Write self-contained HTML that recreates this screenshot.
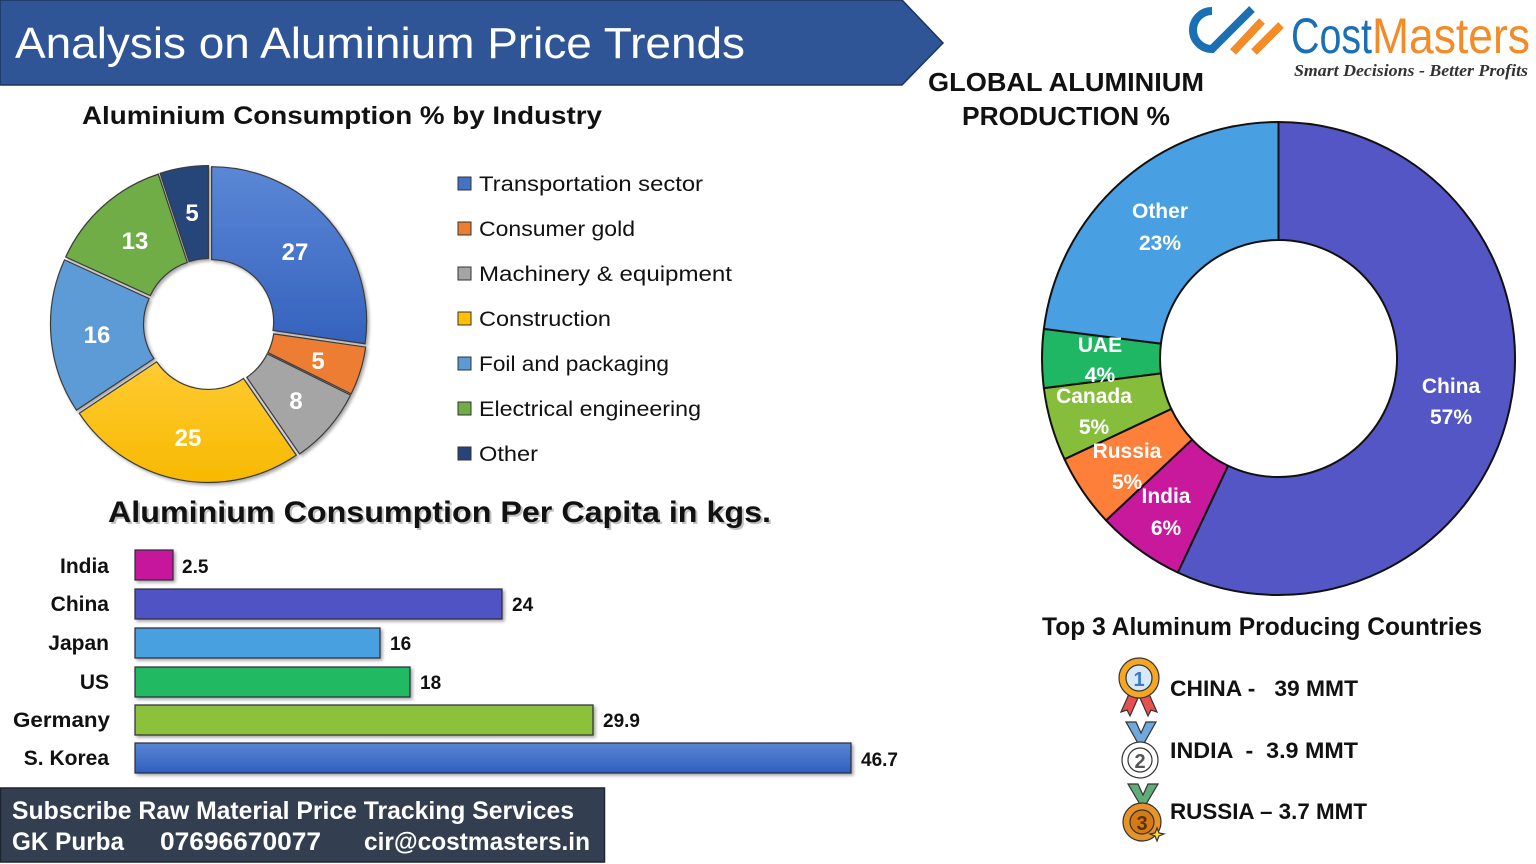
<!DOCTYPE html>
<html><head><meta charset="utf-8"><style>
html,body{margin:0;padding:0;background:#fff;}
body{width:1536px;height:864px;overflow:hidden;}
svg{display:block;}
text{font-family:"Liberation Sans",sans-serif;}
</style></head><body>
<svg width="1536" height="864" viewBox="0 0 1536 864" xmlns="http://www.w3.org/2000/svg">
<defs>
<linearGradient id="gBlue" x1="0" y1="0" x2="0" y2="1"><stop offset="0" stop-color="#5b87d6"/><stop offset="1" stop-color="#3562bd"/></linearGradient>
<linearGradient id="gKorea" x1="0" y1="0" x2="0" y2="1"><stop offset="0" stop-color="#5a85d4"/><stop offset="1" stop-color="#2f5fbf"/></linearGradient>
<linearGradient id="gYel" x1="0" y1="0" x2="0" y2="1"><stop offset="0" stop-color="#ffcb33"/><stop offset="1" stop-color="#f7b900"/></linearGradient>
<filter id="sh" x="-10%" y="-10%" width="130%" height="130%"><feDropShadow dx="2" dy="2" stdDeviation="1.5" flood-color="#000" flood-opacity="0.35"/></filter>
</defs>

<!-- Header banner -->
<polygon points="0,0 902,0 943,43 902,85 0,85" fill="#2f5597" stroke="#1f3460" stroke-width="1.5"/>
<text x="15" y="58" font-size="44" fill="#fff" textLength="730" lengthAdjust="spacingAndGlyphs">Analysis on Aluminium Price Trends</text>

<!-- Logo -->
<path d="M1212,11 A19,19 0 0 0 1212,49 L1252,9" fill="none" stroke="#1b6fb4" stroke-width="8" stroke-linecap="butt"/>
<line x1="1233" y1="52" x2="1262" y2="21" stroke="#f28c28" stroke-width="8"/>
<line x1="1254" y1="52" x2="1281" y2="25" stroke="#f28c28" stroke-width="8"/>
<text x="1291" y="53" font-size="50" fill="#1b6fb4" textLength="81" lengthAdjust="spacingAndGlyphs">Cost</text>
<text x="1372" y="53" font-size="50" fill="#f28c28" textLength="158" lengthAdjust="spacingAndGlyphs">Masters</text>
<text x="1294" y="76" font-size="17" font-weight="bold" font-style="italic" fill="#333" style="font-family:'Liberation Serif',serif" textLength="234" lengthAdjust="spacingAndGlyphs">Smart Decisions - Better Profits</text>

<!-- Global production titles -->
<text x="928" y="91" font-size="26" font-weight="bold" fill="#111" textLength="276" lengthAdjust="spacingAndGlyphs">GLOBAL ALUMINIUM</text>
<text x="962" y="125" font-size="26" font-weight="bold" fill="#111" textLength="208" lengthAdjust="spacingAndGlyphs">PRODUCTION %</text>

<!-- Left title -->
<text x="82" y="124" font-size="25" font-weight="bold" fill="#111" textLength="520" lengthAdjust="spacingAndGlyphs">Aluminium Consumption % by Industry</text>

<!-- Left donut -->
<g stroke="#3a3a3a" stroke-width="1.2" filter="url(#sh)">
<path transform="translate(211.64,321.71)" fill="url(#gBlue)" d="M0,-155 A155,155 0 0 1 153.42,22.05 L61.37,8.82 A62,62 0 0 0 0,-62 Z"/>
<path transform="translate(212.34,325.04)" fill="#ed7d31" d="M153.42,22.05 A155,155 0 0 1 138.88,68.82 L55.55,27.53 A62,62 0 0 0 61.37,8.82 Z"/>
<path transform="translate(211.65,326.29)" fill="#a5a5a5" d="M138.88,68.82 A155,155 0 0 1 87.91,127.67 L35.16,51.07 A62,62 0 0 0 55.55,27.53 Z"/>
<path transform="translate(208.34,327.44)" fill="url(#gYel)" d="M87.91,127.67 A155,155 0 0 1 -129.05,85.87 L-51.62,34.35 A62,62 0 0 0 35.16,51.07 Z"/>
<path transform="translate(205.51,324.28)" fill="#5b9bd5" d="M-129.05,85.87 A155,155 0 0 1 -140.99,-64.40 L-56.40,-25.76 A62,62 0 0 0 -51.62,34.35 Z"/>
<path transform="translate(206.67,321.39)" fill="#70ad47" d="M-140.99,-64.40 A155,155 0 0 1 -48.36,-147.26 L-19.34,-58.91 A62,62 0 0 0 -56.40,-25.76 Z"/>
<path transform="translate(208.45,320.54)" fill="#264478" d="M-48.36,-147.26 A155,155 0 0 1 0,-155 L0,-62 A62,62 0 0 0 -19.34,-58.91 Z"/>
</g>
<g font-size="24" font-weight="bold" fill="#fff" text-anchor="middle">
<text x="295" y="260">27</text>
<text x="318" y="369">5</text>
<text x="296" y="409">8</text>
<text x="188" y="446">25</text>
<text x="97" y="343">16</text>
<text x="135" y="249">13</text>
<text x="192" y="221">5</text>
</g>

<!-- Legend -->
<g stroke="#333" stroke-width="1">
<rect x="458" y="177" width="13" height="13" fill="#4472c4"/>
<rect x="458" y="222" width="13" height="13" fill="#ed7d31"/>
<rect x="458" y="267" width="13" height="13" fill="#a5a5a5"/>
<rect x="458" y="312" width="13" height="13" fill="#ffc000"/>
<rect x="458" y="357" width="13" height="13" fill="#5b9bd5"/>
<rect x="458" y="402" width="13" height="13" fill="#70ad47"/>
<rect x="458" y="447" width="13" height="13" fill="#264478"/>
</g>
<g font-size="21" fill="#111">
<text x="479" y="191" textLength="224" lengthAdjust="spacingAndGlyphs">Transportation sector</text>
<text x="479" y="236" textLength="156" lengthAdjust="spacingAndGlyphs">Consumer gold</text>
<text x="479" y="281" textLength="253" lengthAdjust="spacingAndGlyphs">Machinery &amp; equipment</text>
<text x="479" y="326" textLength="132" lengthAdjust="spacingAndGlyphs">Construction</text>
<text x="479" y="371" textLength="190" lengthAdjust="spacingAndGlyphs">Foil and packaging</text>
<text x="479" y="416" textLength="222" lengthAdjust="spacingAndGlyphs">Electrical engineering</text>
<text x="479" y="461" textLength="59" lengthAdjust="spacingAndGlyphs">Other</text>
</g>

<!-- Per capita title -->
<text x="110" y="524" font-size="30" font-weight="bold" fill="#999" opacity="0.6" textLength="663" lengthAdjust="spacingAndGlyphs">Aluminium Consumption Per Capita in kgs.</text>
<text x="108" y="522" font-size="30" font-weight="bold" fill="#111" textLength="663" lengthAdjust="spacingAndGlyphs">Aluminium Consumption Per Capita in kgs.</text>

<!-- Bars -->
<g stroke="#2a2a3a" stroke-width="1.2" filter="url(#sh)">
<rect x="135" y="550" width="38" height="30" fill="#c6189c"/>
<rect x="135" y="589" width="367" height="30" fill="#5053c4"/>
<rect x="135" y="628" width="245" height="30" fill="#4aa0e0"/>
<rect x="135" y="667" width="275" height="30" fill="#20b964"/>
<rect x="135" y="705" width="458" height="30" fill="#8cc13b"/>
<rect x="135" y="743" width="716" height="30" fill="url(#gKorea)"/>
</g>
<g font-size="21" font-weight="bold" fill="#111" text-anchor="end">
<text x="109" y="573">India</text>
<text x="109" y="611">China</text>
<text x="109" y="650">Japan</text>
<text x="109" y="689">US</text>
<text x="110" y="727" textLength="97" lengthAdjust="spacingAndGlyphs">Germany</text>
<text x="109" y="765">S. Korea</text>
</g>
<g font-size="19" font-weight="bold" fill="#111">
<text x="182" y="573">2.5</text>
<text x="512" y="611">24</text>
<text x="390" y="650">16</text>
<text x="420" y="689">18</text>
<text x="603" y="727">29.9</text>
<text x="861" y="766">46.7</text>
</g>

<!-- Bottom box -->
<rect x="0.5" y="788" width="604" height="74" fill="#333f50" stroke="#1c2430" stroke-width="1.5"/>
<g font-size="25" font-weight="bold" fill="#fff">
<text x="12" y="819" textLength="562" lengthAdjust="spacingAndGlyphs">Subscribe Raw Material Price Tracking Services</text>
<text x="12" y="850" textLength="112" lengthAdjust="spacingAndGlyphs">GK Purba</text>
<text x="160" y="850" textLength="161" lengthAdjust="spacingAndGlyphs">07696670077</text>
<text x="364" y="850" textLength="226" lengthAdjust="spacingAndGlyphs">cir@costmasters.in</text>
</g>

<!-- Right donut -->
<g transform="translate(1278.5,358.5)" stroke="#111" stroke-width="2" stroke-linejoin="round">
<path fill="#5356c4" d="M0,-236.5 A236.5,236.5 0 1 1 -100.70,213.99 L-50.45,107.22 A118.5,118.5 0 1 0 0,-118.5 Z"/>
<path fill="#c8189c" d="M-100.70,213.99 A236.5,236.5 0 0 1 -172.40,161.90 L-86.38,81.12 A118.5,118.5 0 0 0 -50.45,107.22 Z"/>
<path fill="#fd7f3a" d="M-172.40,161.90 A236.5,236.5 0 0 1 -213.99,100.70 L-107.22,50.45 A118.5,118.5 0 0 0 -86.38,81.12 Z"/>
<path fill="#86bd3a" d="M-213.99,100.70 A236.5,236.5 0 0 1 -234.63,29.64 L-117.56,14.85 A118.5,118.5 0 0 0 -107.22,50.45 Z"/>
<path fill="#20b764" d="M-234.63,29.64 A236.5,236.5 0 0 1 -234.63,-29.64 L-117.56,-14.85 A118.5,118.5 0 0 0 -117.56,14.85 Z"/>
<path fill="#489fe1" d="M-234.63,-29.64 A236.5,236.5 0 0 1 0,-236.5 L0,-118.5 A118.5,118.5 0 0 0 -117.56,-14.85 Z"/>
</g>
<g font-size="21" font-weight="bold" fill="#fff" text-anchor="middle">
<text x="1160" y="218">Other</text>
<text x="1160" y="250">23%</text>
<text x="1451" y="393">China</text>
<text x="1451" y="424">57%</text>
<text x="1100" y="352">UAE</text>
<text x="1100" y="382">4%</text>
<text x="1094" y="403">Canada</text>
<text x="1094" y="434">5%</text>
<text x="1127" y="458">Russia</text>
<text x="1127" y="489">5%</text>
<text x="1166" y="503">India</text>
<text x="1166" y="535">6%</text>
</g>

<!-- Top 3 -->
<text x="1042" y="635" font-size="25" font-weight="bold" fill="#111" textLength="440" lengthAdjust="spacingAndGlyphs">Top 3 Aluminum Producing Countries</text>

<!-- Medal 1 -->
<g stroke="#333" stroke-width="1.2">
<polygon points="1129,694 1121,712 1127,710 1130,716 1138,698" fill="#e8504f"/>
<polygon points="1149,694 1157,712 1151,710 1148,716 1140,698" fill="#e8504f"/>
<circle cx="1139" cy="678" r="20" fill="#f5a623"/>
<circle cx="1139" cy="678" r="13" fill="#d6e9f8"/>
</g>
<text x="1139" y="686" font-size="20" font-weight="bold" fill="#3b7cc4" text-anchor="middle">1</text>
<!-- Medal 2 -->
<g stroke="#333" stroke-width="1.2">
<polygon points="1126,722 1136,722 1141,733 1146,722 1156,722 1143,745 1139,745" fill="#6fa8dc"/>
<circle cx="1140" cy="760" r="18" fill="#fff"/>
<circle cx="1140" cy="760" r="12" fill="#fff"/>
</g>
<text x="1140" y="768" font-size="20" font-weight="bold" fill="#555" text-anchor="middle">2</text>
<!-- Medal 3 -->
<g stroke="#333" stroke-width="1.2">
<polygon points="1128,784 1138,784 1143,795 1148,784 1158,784 1145,806 1141,806" fill="#5fae7a"/>
<circle cx="1142" cy="822" r="19" fill="#e8922a"/>
<circle cx="1142" cy="822" r="12" fill="#d67a18"/>
<polygon points="1157,828 1159,833 1164,834 1159,836 1157,841 1155,836 1150,834 1155,833" fill="#ffd93b"/>
</g>
<text x="1142" y="830" font-size="20" font-weight="bold" fill="#5a3208" text-anchor="middle">3</text>

<g font-size="22" font-weight="bold" fill="#111">
<text x="1170" y="696" textLength="188" lengthAdjust="spacingAndGlyphs" xml:space="preserve">CHINA -   39 MMT</text>
<text x="1170" y="758" textLength="188" lengthAdjust="spacingAndGlyphs" xml:space="preserve">INDIA  -  3.9 MMT</text>
<text x="1170" y="819" textLength="197" lengthAdjust="spacingAndGlyphs">RUSSIA – 3.7 MMT</text>
</g>
</svg>
</body></html>
